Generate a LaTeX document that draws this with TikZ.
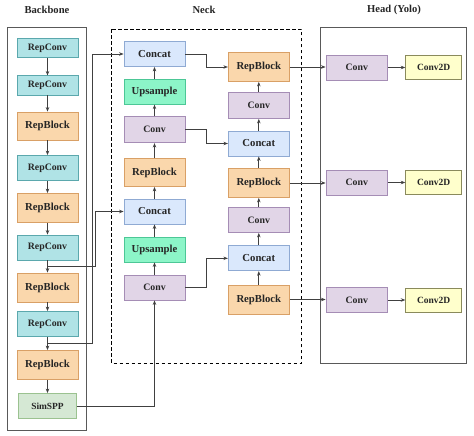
\documentclass[tikz,border=0pt]{standalone}
\usepackage{fontspec}
\setmainfont{Liberation Serif}
\usetikzlibrary{arrows.meta,calc}

\definecolor{rcfill}{HTML}{B0E3E6}
\definecolor{rcline}{HTML}{5BA8AD}
\definecolor{rbfill}{HTML}{FAD7AC}
\definecolor{rbline}{HTML}{D9A066}
\definecolor{catfill}{HTML}{DAE8FC}
\definecolor{catline}{HTML}{8FAAD3}
\definecolor{upfill}{HTML}{8CF5C8}
\definecolor{upline}{HTML}{4CC796}
\definecolor{cvfill}{HTML}{E1D5E7}
\definecolor{cvline}{HTML}{A58DB5}
\definecolor{sppfill}{HTML}{D5E8D4}
\definecolor{sppline}{HTML}{9BC290}
\definecolor{tdfill}{HTML}{FFFFCC}
\definecolor{tdline}{HTML}{8A8A5C}

\begin{document}
\begin{tikzpicture}[x=1pt,y=-1pt,
    blk/.style={draw,line width=0.8pt,inner sep=0pt,minimum width=61pt,minimum height=25pt,text=black!85,font=\fontsize{10.7}{12}\selectfont\bfseries},
    repconv/.style={blk,fill=rcfill,draw=rcline,font=\fontsize{9.8}{12}\selectfont\bfseries},
    repblock/.style={blk,fill=rbfill,draw=rbline,minimum height=29pt},
    concat/.style={blk,fill=catfill,draw=catline},
    upsample/.style={blk,fill=upfill,draw=upline},
    conv/.style={blk,fill=cvfill,draw=cvline,font=\fontsize{9.8}{12}\selectfont\bfseries},
    simspp/.style={blk,fill=sppfill,draw=sppline,minimum width=58pt,font=\fontsize{9.4}{12}\selectfont\bfseries},
    convtd/.style={blk,fill=tdfill,draw=tdline,minimum width=56pt,minimum height=24pt,font=\fontsize{9.5}{12}\selectfont\bfseries},
    arr/.style={-{Stealth[length=4.5pt,width=3.5pt]},line width=0.8pt,draw=black!75},
    frame/.style={draw=black!65,line width=1pt},
    title/.style={text=black!85,font=\fontsize{10.6}{12}\selectfont\bfseries}
  ] % YOLOv6: Backbone, Neck y Head
    \useasboundingbox (0,0) rectangle (474,436);

    % marcos
    \draw[frame] (7.7,27.7) rectangle (86.7,430);
    \draw[black,line width=1.3pt,dash pattern=on 3.5pt off 2.5pt] (111.7,29.3) rectangle (301.7,363.3);
    \draw[frame] (320,27.3) rectangle (466.7,363.3);

    \node[title] (tB) at (47,10) {Backbone};
    \node[title] (tN) at (204,9.5) {Neck};
    \node[title] (tH) at (394,10) {Head (Yolo)};

    % backbone
    \node[repconv,minimum height=19pt] (bRC1) at (47.5,48.4) {RepConv};
    \node[repconv,minimum height=19pt] (bRC2) at (47.5,85.4) {RepConv};
    \node[repblock,minimum height=28pt] (bRB1) at (47.5,126) {RepBlock};
    \node[repconv] (bRC3) at (47.5,168) {RepConv};
    \node[repblock] (bRB2) at (47.5,208) {RepBlock};
    \node[repconv] (bRC4) at (47.5,247.5) {RepConv};
    \node[repblock] (bRB3) at (47.5,287.5) {RepBlock};
    \node[repconv] (bRC5) at (47.5,324) {RepConv};
    \node[repblock] (bRB4) at (47.5,365) {RepBlock};
    \node[simspp] (bSPP) at (47.5,406) {SimSPP};

    \foreach \a/\b in {bRC1/bRC2,bRC2/bRB1,bRB1/bRC3,bRC3/bRB2,bRB2/bRC4,bRC4/bRB3,bRB3/bRC5,bRC5/bRB4,bRB4/bSPP}
      \draw[arr] (\a) -- (\b);

    \coordinate (t4) at ($(bRC4.south)!0.5!(bRB3.north)$);
    \coordinate (t5) at ($(bRC5.south)!0.5!(bRB4.north)$);

    % neck, columna izquierda
    \node[concat] (nCat1) at (154.5,54) {Concat};
    \node[upsample] (nUp1) at (154.5,91.7) {Upsample};
    \node[conv,minimum height=26pt] (nConv1) at (154.5,129.7) {Conv};
    \node[repblock,minimum height=28pt] (nRB1) at (154.5,172.5) {RepBlock};
    \node[concat] (nCat2) at (154.5,211.5) {Concat};
    \node[upsample] (nUp2) at (154.5,249.5) {Upsample};
    \node[conv] (nConv2) at (154.5,287.5) {Conv};

    % neck, columna derecha
    \node[repblock] (nRB2) at (258.8,67) {RepBlock};
    \node[conv,minimum height=26pt] (nConv3) at (258.8,105.5) {Conv};
    \node[concat] (nCat3) at (258.8,143.5) {Concat};
    \node[repblock] (nRB3) at (258.8,183) {RepBlock};
    \node[conv] (nConv4) at (258.8,220) {Conv};
    \node[concat] (nCat4) at (258.8,258.3) {Concat};
    \node[repblock] (nRB4) at (258.8,299.5) {RepBlock};

    \foreach \a/\b in {nConv2/nUp2,nUp2/nCat2,nCat2/nRB1,nRB1/nConv1,nConv1/nUp1,nUp1/nCat1,
                       nRB4/nCat4,nCat4/nConv4,nConv4/nRB3,nRB3/nCat3,nCat3/nConv3,nConv3/nRB2}
      \draw[arr] (\a) -- (\b);

    \draw[arr] (t4) -- ++(47.5,0) |- (nCat2.west);
    \draw[arr] (t5) -- ++(44.8,0) |- (nCat1.west);
    \draw[arr] (bSPP.east) -| (nConv2.south);

    \draw[arr] (nCat1.east) -- ++(21,0) |- (nRB2.west);
    \draw[arr] (nConv1.east) -- ++(21,0) |- (nCat3.west);
    \draw[arr] (nConv2.east) -- ++(21,0) |- (nCat4.west);

    % head
    \node[conv,minimum width=61.7pt] (hConv1) at (356.8,67.5) {Conv};
    \node[conv,minimum width=61.7pt] (hConv2) at (356.8,182.5) {Conv};
    \node[conv,minimum width=61.7pt] (hConv3) at (356.8,300) {Conv};
    \node[convtd] (hTD1) at (433.7,67.5) {Conv2D};
    \node[convtd] (hTD2) at (433.7,182.5) {Conv2D};
    \node[convtd] (hTD3) at (433.7,300) {Conv2D};

    \draw[arr] (nRB2.east) -- (nRB2.east -| hConv1.west);
    \draw[arr] (nRB3.east) -- (nRB3.east -| hConv2.west);
    \draw[arr] (nRB4.east) -- (nRB4.east -| hConv3.west);
    \foreach \i in {1,2,3}
      \draw[arr] (hConv\i) -- (hTD\i);
\end{tikzpicture}
\end{document}
